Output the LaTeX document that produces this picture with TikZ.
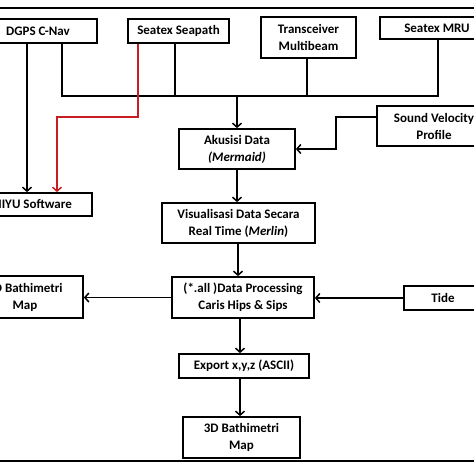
\documentclass[tikz,border=0pt]{standalone}
\usepackage{fontspec}
\setmainfont{Carlito}
\usetikzlibrary{arrows.meta}
\definecolor{redline}{RGB}{200,30,35}
\begin{document}
\begin{tikzpicture}[x=1pt,y=-1pt,
  box/.style={draw,line width=1.7pt,inner sep=0pt,align=center,
    font=\fontsize{13}{17}\selectfont\bfseries},
  line/.style={line width=1.6pt},
  arr/.style={line width=1.6pt,-{Straight Barb[length=4pt,width=9pt,line width=1.5pt]}}]
\useasboundingbox (0,0) rectangle (474,474);
\fill[white] (0,0) rectangle (474,474);
% frame lines
\coordinate (ftl) at (0,8);
\coordinate (ftr) at (474,8);
\coordinate (fbl) at (0,461);
\coordinate (fbr) at (474,461);
\draw[line width=2pt] (ftl) -- (ftr);
\draw[line width=2pt] (fbl) -- (fbr);
% boxes
\node[box,minimum width=118pt,minimum height=24pt] (dgps) at (38,31) {DGPS C-Nav};
\node[box,minimum width=101pt,minimum height=24pt] (seapath) at (178.5,31) {Seatex Seapath};
\node[box,minimum width=95pt,minimum height=41pt] (trans) at (308.5,37.5) {Transceiver\\Multibeam};
\node[box,minimum width=114pt,minimum height=22pt] (mru) at (437,28) {Seatex MRU};
\node[box,minimum width=119pt,minimum height=23pt] (niyu) at (32.5,204.5) {NIYU Software};
\node[box,minimum width=116pt,minimum height=40pt] (aku) at (237,149) {Akusisi Data\\\textit{(Mermaid)}};
\node[box,minimum width=114pt,minimum height=40pt] (svp) at (434,126) {Sound Velocity\\Profile};
\node[box,minimum width=153pt,minimum height=40pt] (vis) at (238.5,223) {Visualisasi Data Secara\\Real Time (\textit{Merlin})};
\node[box,minimum width=116pt,minimum height=42pt] (bath2d) at (25,297) {2D Bathimetri\\Map};
\node[box,minimum width=142pt,minimum height=41pt] (dp) at (243,297.5) {(*.all )Data Processing\\Caris Hips \& Sips};
\node[box,minimum width=78pt,minimum height=24pt] (tide) at (443,298) {Tide};
\node[box,minimum width=130pt,minimum height=24pt] (exp) at (244,366) {Export x,y,z (ASCII)};
\node[box,minimum width=117pt,minimum height=41pt] (bath3d) at (241.5,437.5) {3D Bathimetri\\Map};
% bus
\coordinate (busL) at (62,96);
\coordinate (busR) at (438,96);
\coordinate (busM) at (237,96);
\draw[line] ([xshift=24pt]dgps.south) -- (busL) -- (busR) -- (busR |- mru.south);
\draw[line] ([xshift=-3.5pt]seapath.south) -- ([xshift=-3.5pt]seapath.south |- busL);
\draw[line] ([xshift=-1.5pt]trans.south) -- ([xshift=-1.5pt]trans.south |- busL);
\draw[arr] (busM) -- (busM |- aku.north);
% to NIYU
\draw[arr] ([xshift=-11pt]dgps.south) -- ([xshift=-11pt]dgps.south |- niyu.north);
\coordinate (redK) at (57,117);
\draw[arr,redline] ([xshift=-40.5pt]seapath.south) |- (redK) -- (redK |- niyu.north);
% SVP
\coordinate (svpK) at (336,117);
\draw[arr] ([yshift=9pt]svp.west) -- (svpK) |- (aku.east);
% main column
\draw[arr] (aku.south) -- (aku.south |- vis.north);
\draw[arr] ([xshift=-0.5pt]vis.south) -- ([xshift=-0.5pt]vis.south |- dp.north);
\draw[arr] ([xshift=-3pt]dp.south) -- ([xshift=-3pt]dp.south |- exp.north);
\draw[arr] ([xshift=-4pt]exp.south) -- ([xshift=-4pt]exp.south |- bath3d.north);
% side
\draw[arr] (dp.west) -- (dp.west -| bath2d.east);
\draw[arr] (tide.west) -- (tide.west -| dp.east);
\end{tikzpicture}
\end{document}
